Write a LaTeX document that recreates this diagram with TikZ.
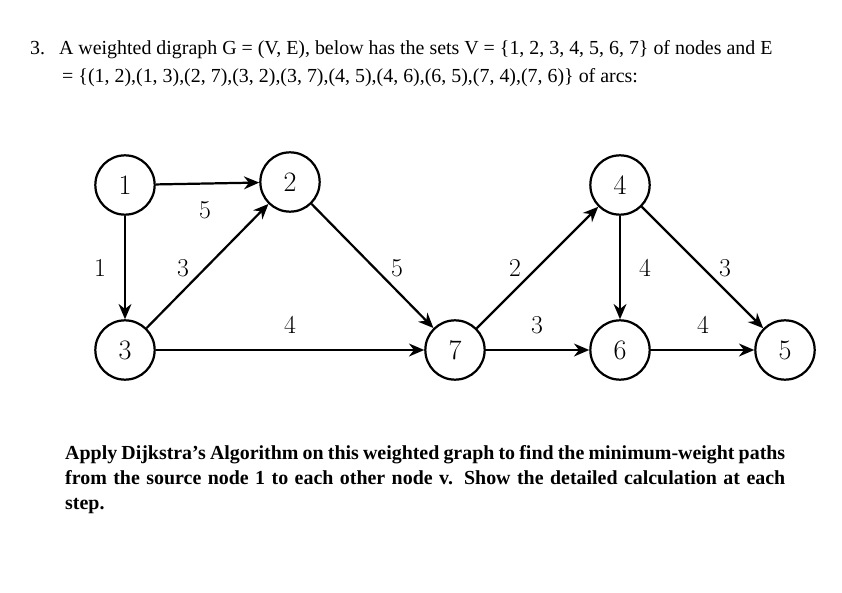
\documentclass[tikz,border=0pt]{standalone}
\usepackage{fontspec}
\newfontfamily\tnr{Liberation Serif}
\usetikzlibrary{arrows.meta}
\begin{document}
\begin{tikzpicture}[x=0.03cm,y=-0.03cm,
  vtx/.style={circle,draw,line width=1.9pt,minimum size=1.78cm,inner sep=0pt,font=\fontsize{24}{24}\selectfont},
  arc/.style={line width=1.9pt,-{Stealth[length=13pt,width=11pt]}},
  wt/.style={font=\fontsize{22}{22}\selectfont,inner sep=1pt},
  txt/.style={font=\tnr\fontsize{17}{20}\selectfont,anchor=west,inner sep=0pt}]
\useasboundingbox (0,0) rectangle (842,593);
\node[txt] (t1) at (30,50) {3.\hspace{0.7em}A weighted digraph G = (V, E), below has the sets V = \{1, 2, 3, 4, 5, 6, 7\} of nodes and E};
\node[txt] (t2) at (62,78) {= \{(1, 2),(1, 3),(2, 7),(3, 2),(3, 7),(4, 5),(4, 6),(6, 5),(7, 4),(7, 6)\} of arcs:};
\node[vtx] (n1) at (125,185) {1};
\node[vtx] (n2) at (290,182) {2};
\node[vtx] (n3) at (125,350) {3};
\node[vtx] (n7) at (455,350) {7};
\node[vtx] (n4) at (620,185) {4};
\node[vtx] (n6) at (620,350) {6};
\node[vtx] (n5) at (785,350) {5};
\draw[arc] (n1) -- (n2);
\draw[arc] (n1) -- (n3);
\draw[arc] (n3) -- (n2);
\draw[arc] (n2) -- (n7);
\draw[arc] (n3) -- (n7);
\draw[arc] (n7) -- (n4);
\draw[arc] (n7) -- (n6);
\draw[arc] (n4) -- (n6);
\draw[arc] (n4) -- (n5);
\draw[arc] (n6) -- (n5);
\node[wt] (w12) at (205,210) {5};
\node[wt] (w13) at (100,268) {1};
\node[wt] (w32) at (183,268) {3};
\node[wt] (w27) at (397,268) {5};
\node[wt] (w37) at (290,325) {4};
\node[wt] (w74) at (515,268) {2};
\node[wt] (w76) at (537,325) {3};
\node[wt] (w46) at (645,268) {4};
\node[wt] (w45) at (725,268) {3};
\node[wt] (w65) at (703,325) {4};
\node[anchor=north west,inner sep=0pt,text width=21.6cm,align=justify,font=\tnr\bfseries\fontsize{17}{21.3}\selectfont] (t3) at (65,445)
{Apply Dijkstra’s Algorithm on this weighted graph to find the minimum-weight paths from the source node 1 to each other node v. Show the detailed calculation at each step.};
\end{tikzpicture}
\end{document}
